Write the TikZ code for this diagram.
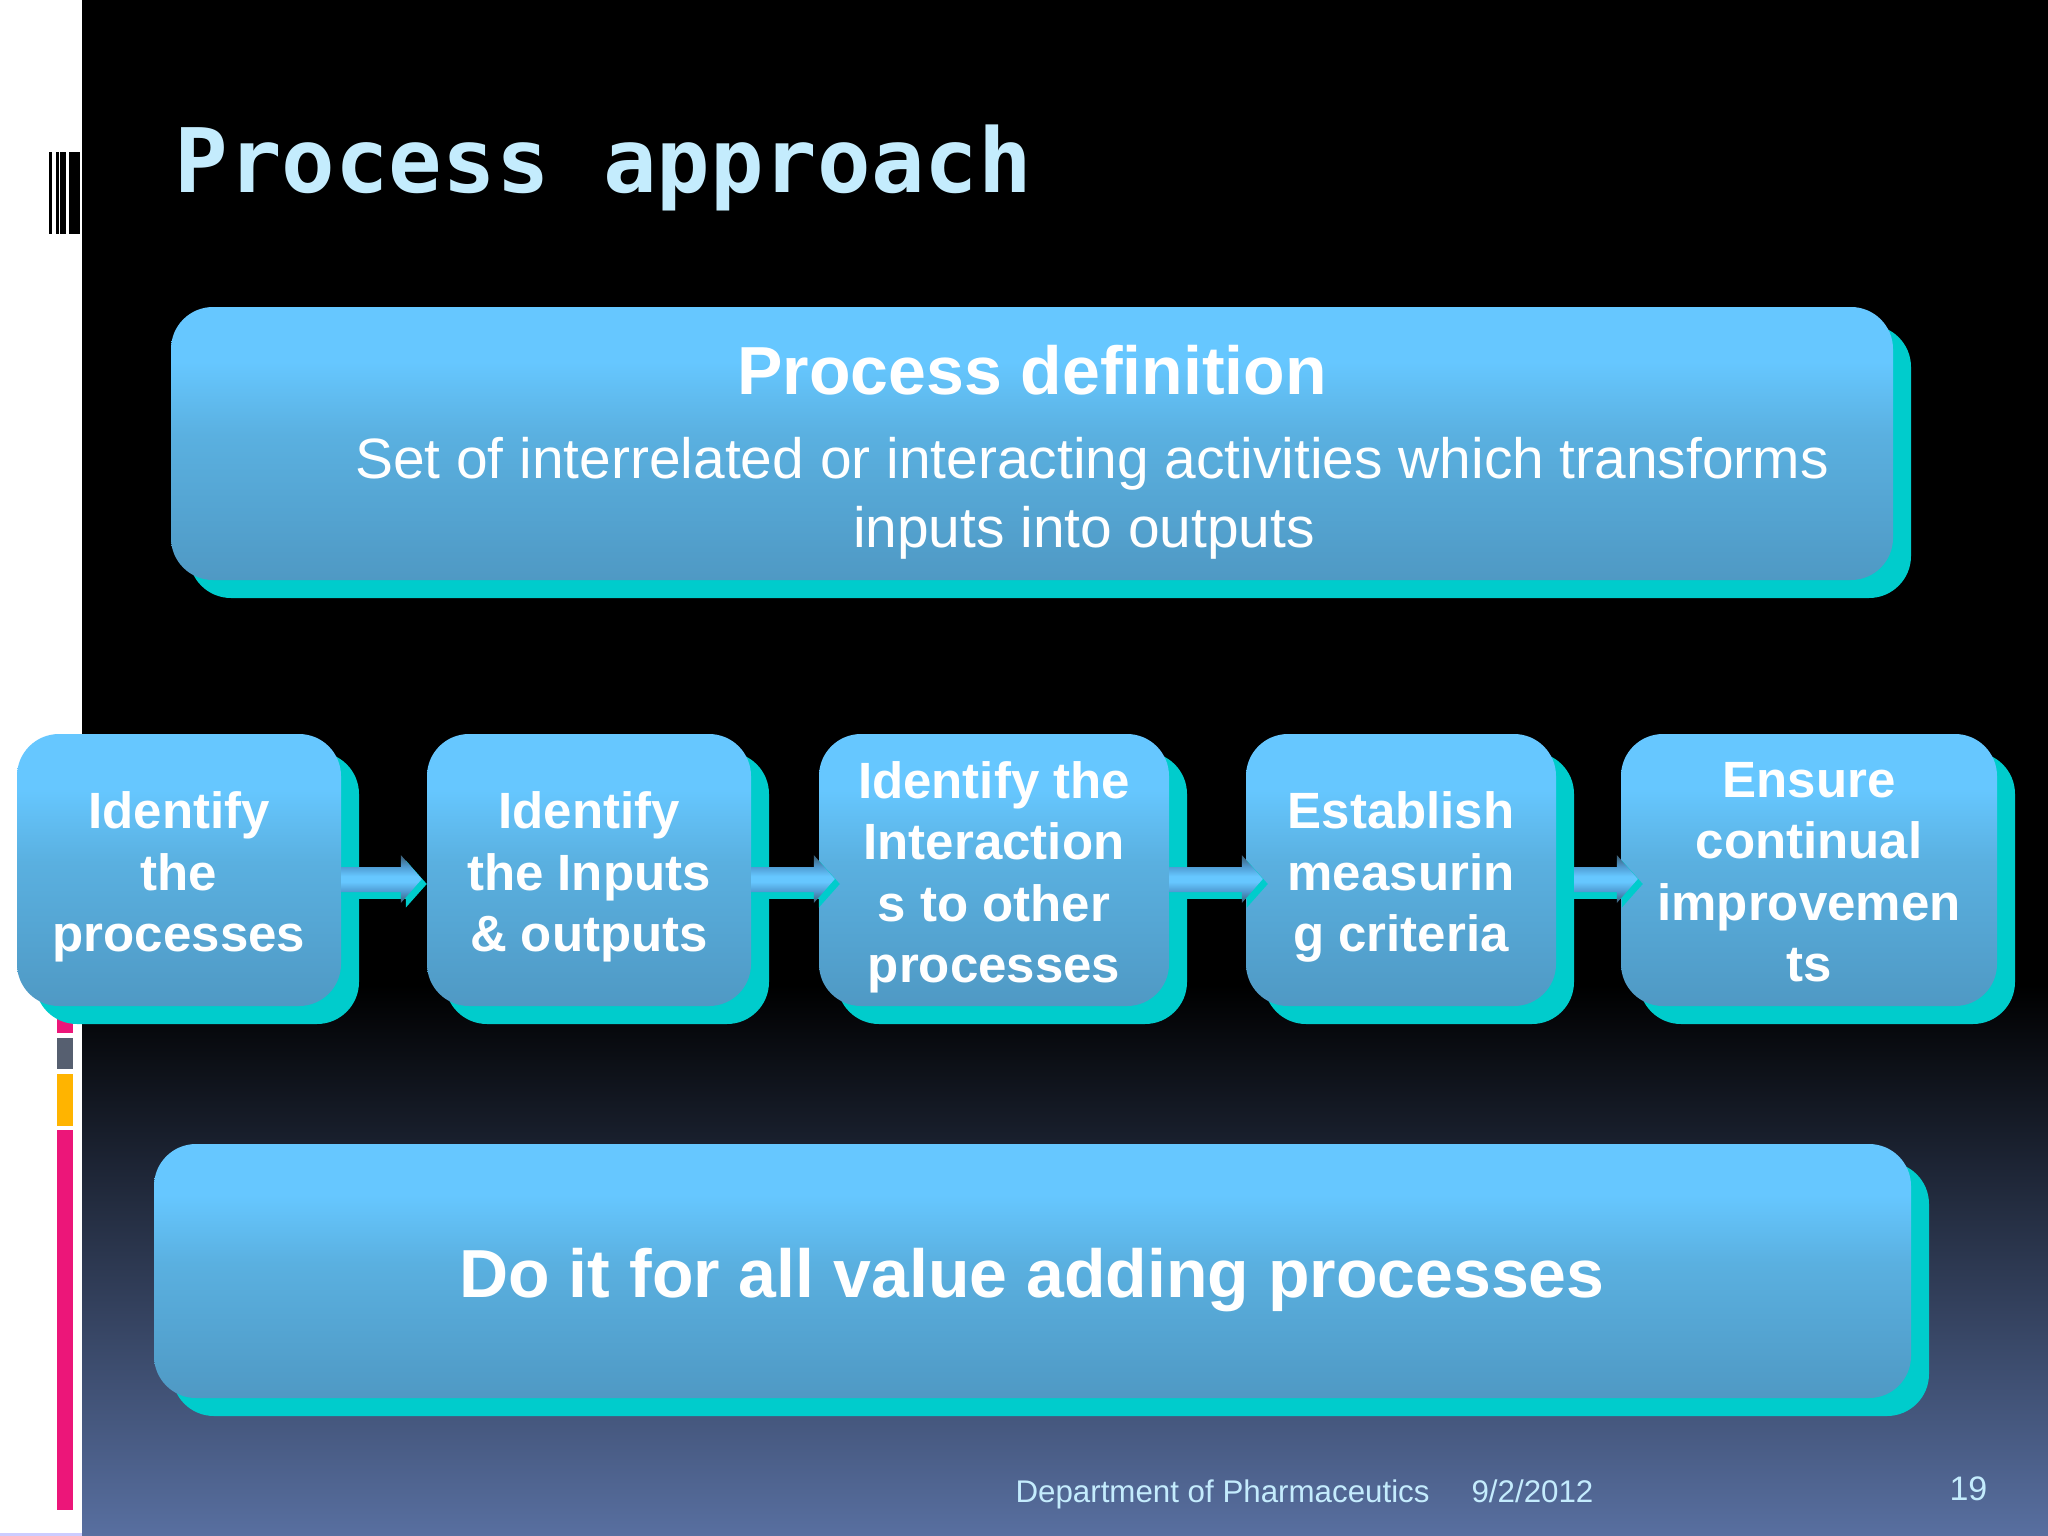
\documentclass[tikz,border=0pt]{standalone}
\usepackage{fontspec}
\setmainfont{Liberation Sans}
\newfontfamily\titlefont{DejaVu Sans Mono}
\usetikzlibrary{arrows.meta,calc,shadows}
\definecolor{boxtop}{HTML}{66C7FF}
\definecolor{boxmid}{HTML}{5AB0E0}
\definecolor{boxbot}{HTML}{4F99C4}
\definecolor{boxedge}{HTML}{00CCCC}
\definecolor{headdark}{HTML}{3A5A70}
\definecolor{shaftedge}{HTML}{4F9BD2}
\definecolor{slideblue}{HTML}{586FA0}
\definecolor{barpink}{HTML}{EC1679}
\definecolor{bargrey}{HTML}{565F70}
\definecolor{baramber}{HTML}{FFB400}
\definecolor{titleblue}{HTML}{C4ECFD}
\pgfdeclareverticalshading{panelfade}{100bp}{color(0bp)=(boxbot); color(25bp)=(boxbot); color(51.5bp)=(boxmid); color(65bp)=(boxtop); color(100bp)=(boxtop)}
\pgfdeclareverticalshading{flowfade}{100bp}{color(0bp)=(headdark); color(25bp)=(headdark); color(37bp)=(shaftedge); color(47bp)=(boxtop); color(53bp)=(boxtop); color(63bp)=(shaftedge); color(75bp)=(headdark); color(100bp)=(headdark)}
\tikzset{
    panel/.style={rounded corners=42pt, inner sep=0pt, shading=panelfade,
        general shadow={fill=boxedge, shadow xshift=18pt, shadow yshift=-18pt}},
    stepbox/.style={panel, minimum height=272pt},
    steptext/.style={text=white, align=center, font=\bfseries\fontsize{51}{61.5}\selectfont,
        execute at end node={\rule[-12pt]{0pt}{12pt}}},
    wordhead/.style={text=white, font=\bfseries\fontsize{68}{80}\selectfont},
    footer/.style={text=titleblue, font=\fontsize{31.3}{38}\selectfont},
    flowback/.style={boxedge, line width=30pt, -{Triangle[length=21pt,width=46pt]}},
    flowbody/.style={shading=flowfade},
}
\begin{document}
\begin{tikzpicture}[x=1pt, y=-1pt]
    \useasboundingbox (0,0) rectangle (2048,1536);
    % slide background
    \fill[white] (0,0) rectangle (2048,1536);
    \fill[black] (82,0) rectangle (2048,987);
    \shade[top color=black, bottom color=slideblue] (82,985) rectangle (2048,1536);
    \fill[blue!20!white] (0,1533) rectangle (82,1536);
    % bars at the left edge
    \fill[black] (49,152) rectangle (52,234);
    \fill[black] (56,152) rectangle (59,234);
    \fill[black] (60,152) rectangle (66,234);
    \fill[black] (69,152) rectangle (80,234);
    \fill[barpink] (57,1000) rectangle (73,1033);
    \fill[bargrey] (57,1038) rectangle (73,1069);
    \fill[baramber] (57,1074) rectangle (73,1126);
    \fill[barpink] (57,1130) rectangle (73,1510);

    \node[anchor=base west, text=titleblue, font=\titlefont\bfseries\fontsize{89}{100}\selectfont]
        (title) at (171,192) {Process approach};

    \node[panel, minimum width=1722pt, minimum height=273pt] (definition) at (1032,443.5) {};
    \node[wordhead] (defhead) at (1032,370.5) {Process definition};
    \node[text=white, align=center, font=\fontsize{56.9}{69}\selectfont] (deftext) at (1084,498)
        {\hspace*{16pt}Set of interrelated or interacting activities which transforms\\inputs into outputs};

    \node[stepbox, minimum width=324pt] (identify) at (179,870) {};
    \node[stepbox, minimum width=324pt] (inputs) at (589,870) {};
    \node[stepbox, minimum width=350pt] (interact) at (994,870) {};
    \node[stepbox, minimum width=310pt] (measure) at (1401,870) {};
    \node[stepbox, minimum width=376pt] (ensure) at (1809,870) {};

    % arrows between the steps
    \foreach \from/\to/\gap/\over in {identify/inputs/0/0, inputs/interact/0/21, interact/measure/0/22, measure/ensure/18/22} {
        \draw[flowback] ($(\from.east)+(\gap,14)$) -- ($(\to.west)+(\over,14)$);
        \shade[flowbody] ($(\from.east)+(\gap,-3)$) -- ($(\to.west)+(\over-26,-3)$) -- ($(\to.west)+(\over-26,-15)$)
            -- ($(\to.west)+(\over-5,9)$) -- ($(\to.west)+(\over-26,33)$) -- ($(\to.west)+(\over-26,22)$)
            -- ($(\from.east)+(\gap,22)$) -- cycle;
    }

    \node[steptext] (identifytext) at ($(identify)+(0,8)$) {Identify\\the\\processes};
    \node[steptext] (inputstext) at ($(inputs)+(0,8)$) {Identify\\the Inputs\\\& outputs};
    \node[steptext] (interacttext) at ($(interact)+(0,8)$) {Identify the\\Interaction\\s to other\\processes};
    \node[steptext] (measuretext) at ($(measure)+(0,8)$) {Establish\\measurin\\g criteria};
    \node[steptext] (ensuretext) at ($(ensure)+(0,8)$) {Ensure\\continual\\improvemen\\ts};

    \node[panel, minimum width=1757pt, minimum height=254pt] (allproc) at (1032.5,1271) {};
    \node[wordhead] (alltext) at (1032,1280.5) {Do it for all value adding processes};

    \node[footer, anchor=base west] (dept) at (1012,1502) {Department of Pharmaceutics};
    \node[footer, anchor=base west] (date) at (1468,1502) {9/2/2012};
    \node[footer, anchor=base west, font=\fontsize{34}{38}\selectfont] (page) at (1946,1500) {19};
\end{tikzpicture}
\end{document}
